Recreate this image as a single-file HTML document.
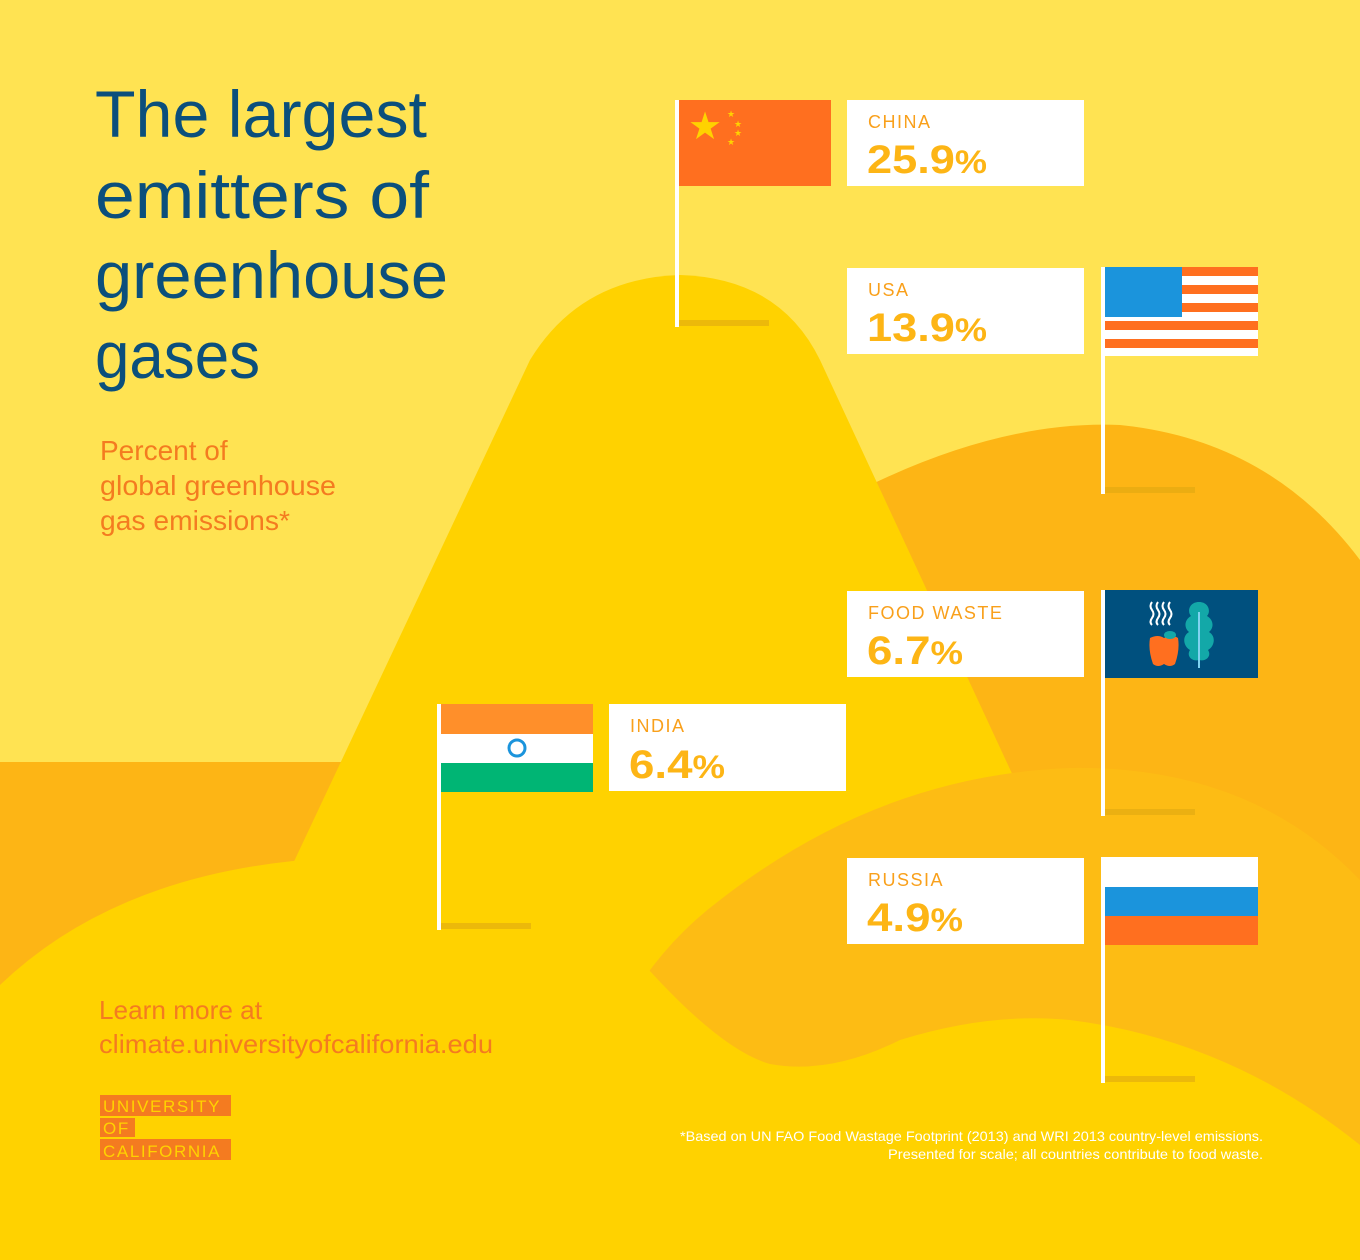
<!DOCTYPE html>
<html><head><meta charset="utf-8"><style>
html,body{margin:0;padding:0;width:1360px;height:1260px;overflow:hidden;background:#FFE352}
svg{display:block}
text{font-family:"Liberation Sans",sans-serif}
</style></head><body>
<svg width="1360" height="1260" viewBox="0 0 1360 1260" xmlns="http://www.w3.org/2000/svg">
<rect width="1360" height="1260" fill="#FFE352"/>
<rect x="0" y="762" width="1360" height="498" fill="#FDB515"/>
<path d="M860,490 Q1000,420 1120,425 Q1270,440 1360,560 L1360,1260 L860,1260 Z" fill="#FDB515"/>
<path d="M290,870 L530,360 Q580,278 680,275 Q780,278 820,360 L1015,780 L1015,1260 L290,1260 Z" fill="#FFD200"/>
<path d="M600,1060 Q640,960 720,900 Q880,775 1070,768 Q1250,765 1360,880 L1360,1260 L600,1260 Z" fill="#FDBC14"/>
<path d="M0,985 Q120,870 330,858 Q520,852 640,960 Q720,1050 770,1064 Q830,1075 900,1040 Q990,1012 1070,1020 Q1230,1040 1360,1145 L1360,1260 L0,1260 Z" fill="#FFD200"/>

<g fill="#0B4F7C" font-size="66">
<text x="95" y="137" textLength="332" lengthAdjust="spacingAndGlyphs">The largest</text>
<text x="95" y="218" textLength="334" lengthAdjust="spacingAndGlyphs">emitters of</text>
<text x="95" y="298" textLength="353" lengthAdjust="spacingAndGlyphs">greenhouse</text>
<text x="95" y="378" textLength="165" lengthAdjust="spacingAndGlyphs">gases</text>
</g>
<g fill="#F47B20" font-size="28">
<text x="100" y="460">Percent of</text>
<text x="100" y="495" textLength="236" lengthAdjust="spacingAndGlyphs">global greenhouse</text>
<text x="100" y="530" textLength="190" lengthAdjust="spacingAndGlyphs">gas emissions*</text>
</g>
<g fill="#F47B20" font-size="26">
<text x="99" y="1019" textLength="163" lengthAdjust="spacingAndGlyphs">Learn more at</text>
<text x="99" y="1053" textLength="394" lengthAdjust="spacingAndGlyphs">climate.universityofcalifornia.edu</text>
</g>
<rect x="100" y="1095" width="131" height="21" fill="#F47B20"/>
<rect x="100" y="1118" width="35" height="19" fill="#F47B20"/>
<rect x="100" y="1139" width="131" height="21" fill="#F47B20"/>
<g fill="#FFD200" font-size="17" letter-spacing="1.6">
<text x="103" y="1112">UNIVERSITY</text>
<text x="103" y="1134">OF</text>
<text x="103" y="1157">CALIFORNIA</text>
</g>
<g fill="#FFFFFF" font-size="14" text-anchor="end">
<text x="1263" y="1141" textLength="583" lengthAdjust="spacingAndGlyphs">*Based on UN FAO Food Wastage Footprint (2013) and WRI 2013 country-level emissions.</text>
<text x="1263" y="1159" textLength="375" lengthAdjust="spacingAndGlyphs">Presented for scale; all countries contribute to food waste.</text>
</g>

<g fill="#FFFFFF">
<rect x="675" y="100" width="4" height="227"/>
<rect x="1101" y="267" width="4" height="227"/>
<rect x="1101" y="590" width="4" height="226"/>
<rect x="1101" y="857" width="4" height="226"/>
<rect x="437" y="704" width="4" height="226"/>
</g>
<g fill="#E0A810" opacity="0.6">
<rect x="679" y="320" width="90" height="6"/>
<rect x="1105" y="487" width="90" height="6"/>
<rect x="1105" y="809" width="90" height="6"/>
<rect x="1105" y="1076" width="90" height="6"/>
<rect x="441" y="923" width="90" height="6"/>
</g>

<rect x="679" y="100" width="152" height="86" fill="#FF6F1F"/>
<text x="705" y="139" font-size="38" fill="#FFD200" text-anchor="middle">★</text>
<g fill="#FFD200" font-size="9"><text x="727" y="117">★</text><text x="734" y="127">★</text><text x="734" y="136">★</text><text x="727" y="145">★</text></g>

<rect x="1105" y="267" width="153" height="89" fill="#FFFFFF"/>
<g fill="#FF6F1F">
<rect x="1105" y="267" width="153" height="9"/><rect x="1105" y="285" width="153" height="9"/><rect x="1105" y="303" width="153" height="9"/><rect x="1105" y="321" width="153" height="9"/><rect x="1105" y="339" width="153" height="9"/>
</g>
<rect x="1105" y="267" width="77" height="50" fill="#1B94DC"/>

<rect x="1105" y="590" width="153" height="88" fill="#00507E"/>
<g stroke="#FFFFFF" stroke-width="2" fill="none">
<path d="M1152,602 q-3,4 0,8 q3,4 0,8 q-3,4 0,7"/><path d="M1158,602 q-3,4 0,8 q3,4 0,8 q-3,4 0,7"/><path d="M1164,602 q-3,4 0,8 q3,4 0,8 q-3,4 0,7"/><path d="M1170,602 q-3,4 0,8 q3,4 0,8 q-3,4 0,7"/>
</g>
<path d="M1150,638 q8,-4 14,0 q8,-4 14,0 q2,12 -3,26 q-5,4 -11,0 q-6,4 -11,0 q-5,-14 -3,-26z" fill="#FF6F1F"/>
<ellipse cx="1170" cy="635" rx="6" ry="4" fill="#13A8A8"/>
<path d="M1199,602 c10,0 12,10 8,14 c7,4 7,12 2,16 c7,4 6,14 -1,18 c4,6 -2,12 -9,10 c-7,2 -13,-4 -9,-10 c-7,-4 -8,-14 -1,-18 c-5,-4 -5,-12 2,-16 c-4,-4 -2,-14 8,-14z" fill="#13A8A8"/>
<rect x="1198" y="612" width="2" height="56" fill="#7FD3F0"/>

<rect x="1105" y="857" width="153" height="30" fill="#FFFFFF"/>
<rect x="1105" y="887" width="153" height="29" fill="#1B94DC"/>
<rect x="1105" y="916" width="153" height="29" fill="#FF6F1F"/>

<rect x="441" y="704" width="152" height="30" fill="#FF8F2A"/>
<rect x="441" y="734" width="152" height="29" fill="#FFFFFF"/>
<rect x="441" y="763" width="152" height="29" fill="#00B574"/>
<circle cx="517" cy="748" r="8" fill="none" stroke="#1B94DC" stroke-width="3"/>

<g fill="#FFFFFF">
<rect x="847" y="100" width="237" height="86"/>
<rect x="847" y="268" width="237" height="86"/>
<rect x="847" y="591" width="237" height="86"/>
<rect x="847" y="858" width="237" height="86"/>
<rect x="609" y="704" width="237" height="87"/>
</g>
<g fill="#F9A01B" font-size="18" letter-spacing="1.5">
<text x="868" y="128">CHINA</text>
<text x="868" y="296">USA</text>
<text x="868" y="619">FOOD WASTE</text>
<text x="868" y="886">RUSSIA</text>
<text x="630" y="732">INDIA</text>
</g>
<g fill="#FDB515" font-size="40" font-weight="bold">
<text x="867" y="173" textLength="120" lengthAdjust="spacingAndGlyphs">25.9<tspan font-size="32">%</tspan></text>
<text x="867" y="341" textLength="120" lengthAdjust="spacingAndGlyphs">13.9<tspan font-size="32">%</tspan></text>
<text x="867" y="664" textLength="96" lengthAdjust="spacingAndGlyphs">6.7<tspan font-size="32">%</tspan></text>
<text x="867" y="931" textLength="96" lengthAdjust="spacingAndGlyphs">4.9<tspan font-size="32">%</tspan></text>
<text x="629" y="778" textLength="96" lengthAdjust="spacingAndGlyphs">6.4<tspan font-size="32">%</tspan></text>
</g>
</svg>
</body></html>
